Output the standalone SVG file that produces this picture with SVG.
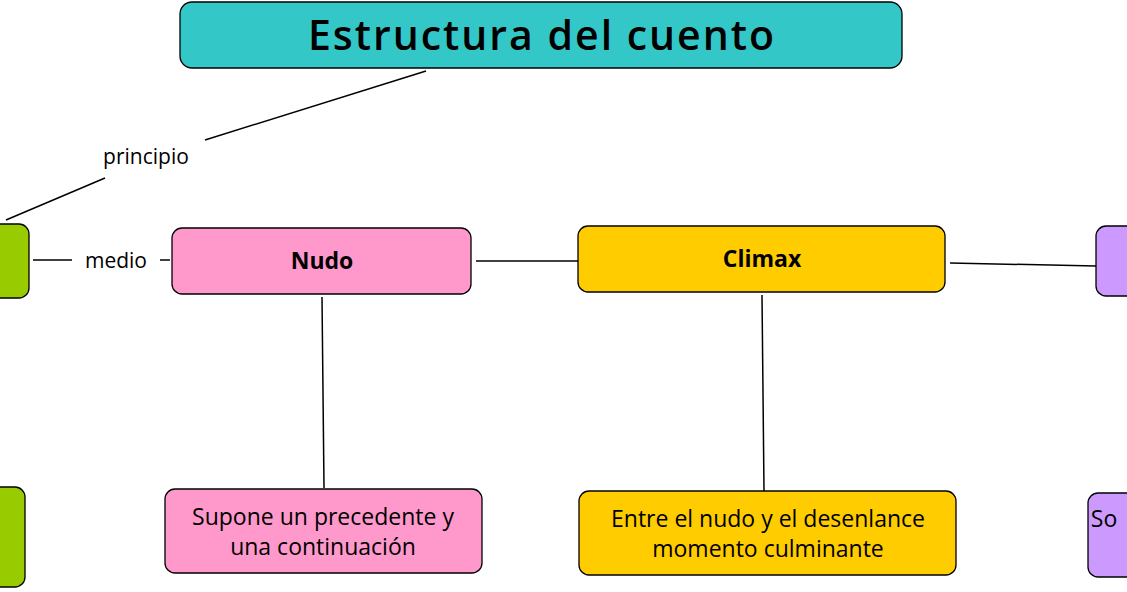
<svg xmlns="http://www.w3.org/2000/svg" width="1127" height="592" viewBox="0 0 1127 592">
<style>
.n{stroke:#000;stroke-width:1.3}
.t{font-family:"Open Sans","DejaVu Sans",sans-serif;fill:#000;text-anchor:middle}
.b{font-size:23px;font-weight:bold}
.s{font-size:23px}
#connectors line{stroke:#000;stroke-width:1.5}
</style>
<rect width="1127" height="592" fill="#fff"/>
<g id="connectors">
<line x1="426" y1="71" x2="205" y2="140"/>
<line x1="105" y1="178" x2="6" y2="220"/>
<line x1="33" y1="260" x2="72" y2="260"/>
<line x1="160" y1="260" x2="170" y2="260"/>
<line x1="476" y1="261" x2="578" y2="261"/>
<line x1="950" y1="263" x2="1096" y2="266"/>
<line x1="322" y1="297" x2="324" y2="488"/>
<line x1="762" y1="295" x2="764" y2="491"/>
<text class="t" x="146" y="164" font-size="21">principio</text>
<text class="t" x="116" y="268" font-size="21">medio</text>
</g>
<g id="title"><rect class="n" x="180" y="2" width="722" height="66" rx="12" fill="#33C7C7"/><text class="t" x="542" y="50" font-size="41" font-weight="600" letter-spacing="2">Estructura del cuento</text></g>
<g id="inicio"><rect class="n" x="-12" y="224" width="41" height="74" rx="10" fill="#99CC00"/></g>
<g id="nudo"><rect class="n" x="172" y="228" width="299" height="66" rx="10" fill="#FF99CC"/><text class="t b" x="322" y="269">Nudo</text></g>
<g id="climax"><rect class="n" x="578" y="226" width="367" height="66" rx="10" fill="#FFCC00"/><text class="t b" x="762" y="267">Climax</text></g>
<g id="desenlace"><rect class="n" x="1096" y="226" width="50" height="70" rx="10" fill="#CC99FF"/></g>
<g id="inicio-d"><rect class="n" x="-12" y="487" width="37" height="100" rx="10" fill="#99CC00"/></g>
<g id="nudo-d"><rect class="n" x="165" y="489" width="317" height="84" rx="10" fill="#FF99CC"/><text class="t s" x="323" y="525">Supone un precedente y</text><text class="t s" x="323" y="555">una continuación</text></g>
<g id="climax-d"><rect class="n" x="579" y="491" width="377" height="84" rx="10" fill="#FFCC00"/><text class="t s" x="768" y="527">Entre el nudo y el desenlance</text><text class="t s" x="768" y="557">momento culminante</text></g>
<g id="desenlace-d"><rect class="n" x="1088" y="493" width="60" height="84" rx="10" fill="#CC99FF"/><text class="t s" x="1104" y="527" text-anchor="start">So</text></g>
</svg>
